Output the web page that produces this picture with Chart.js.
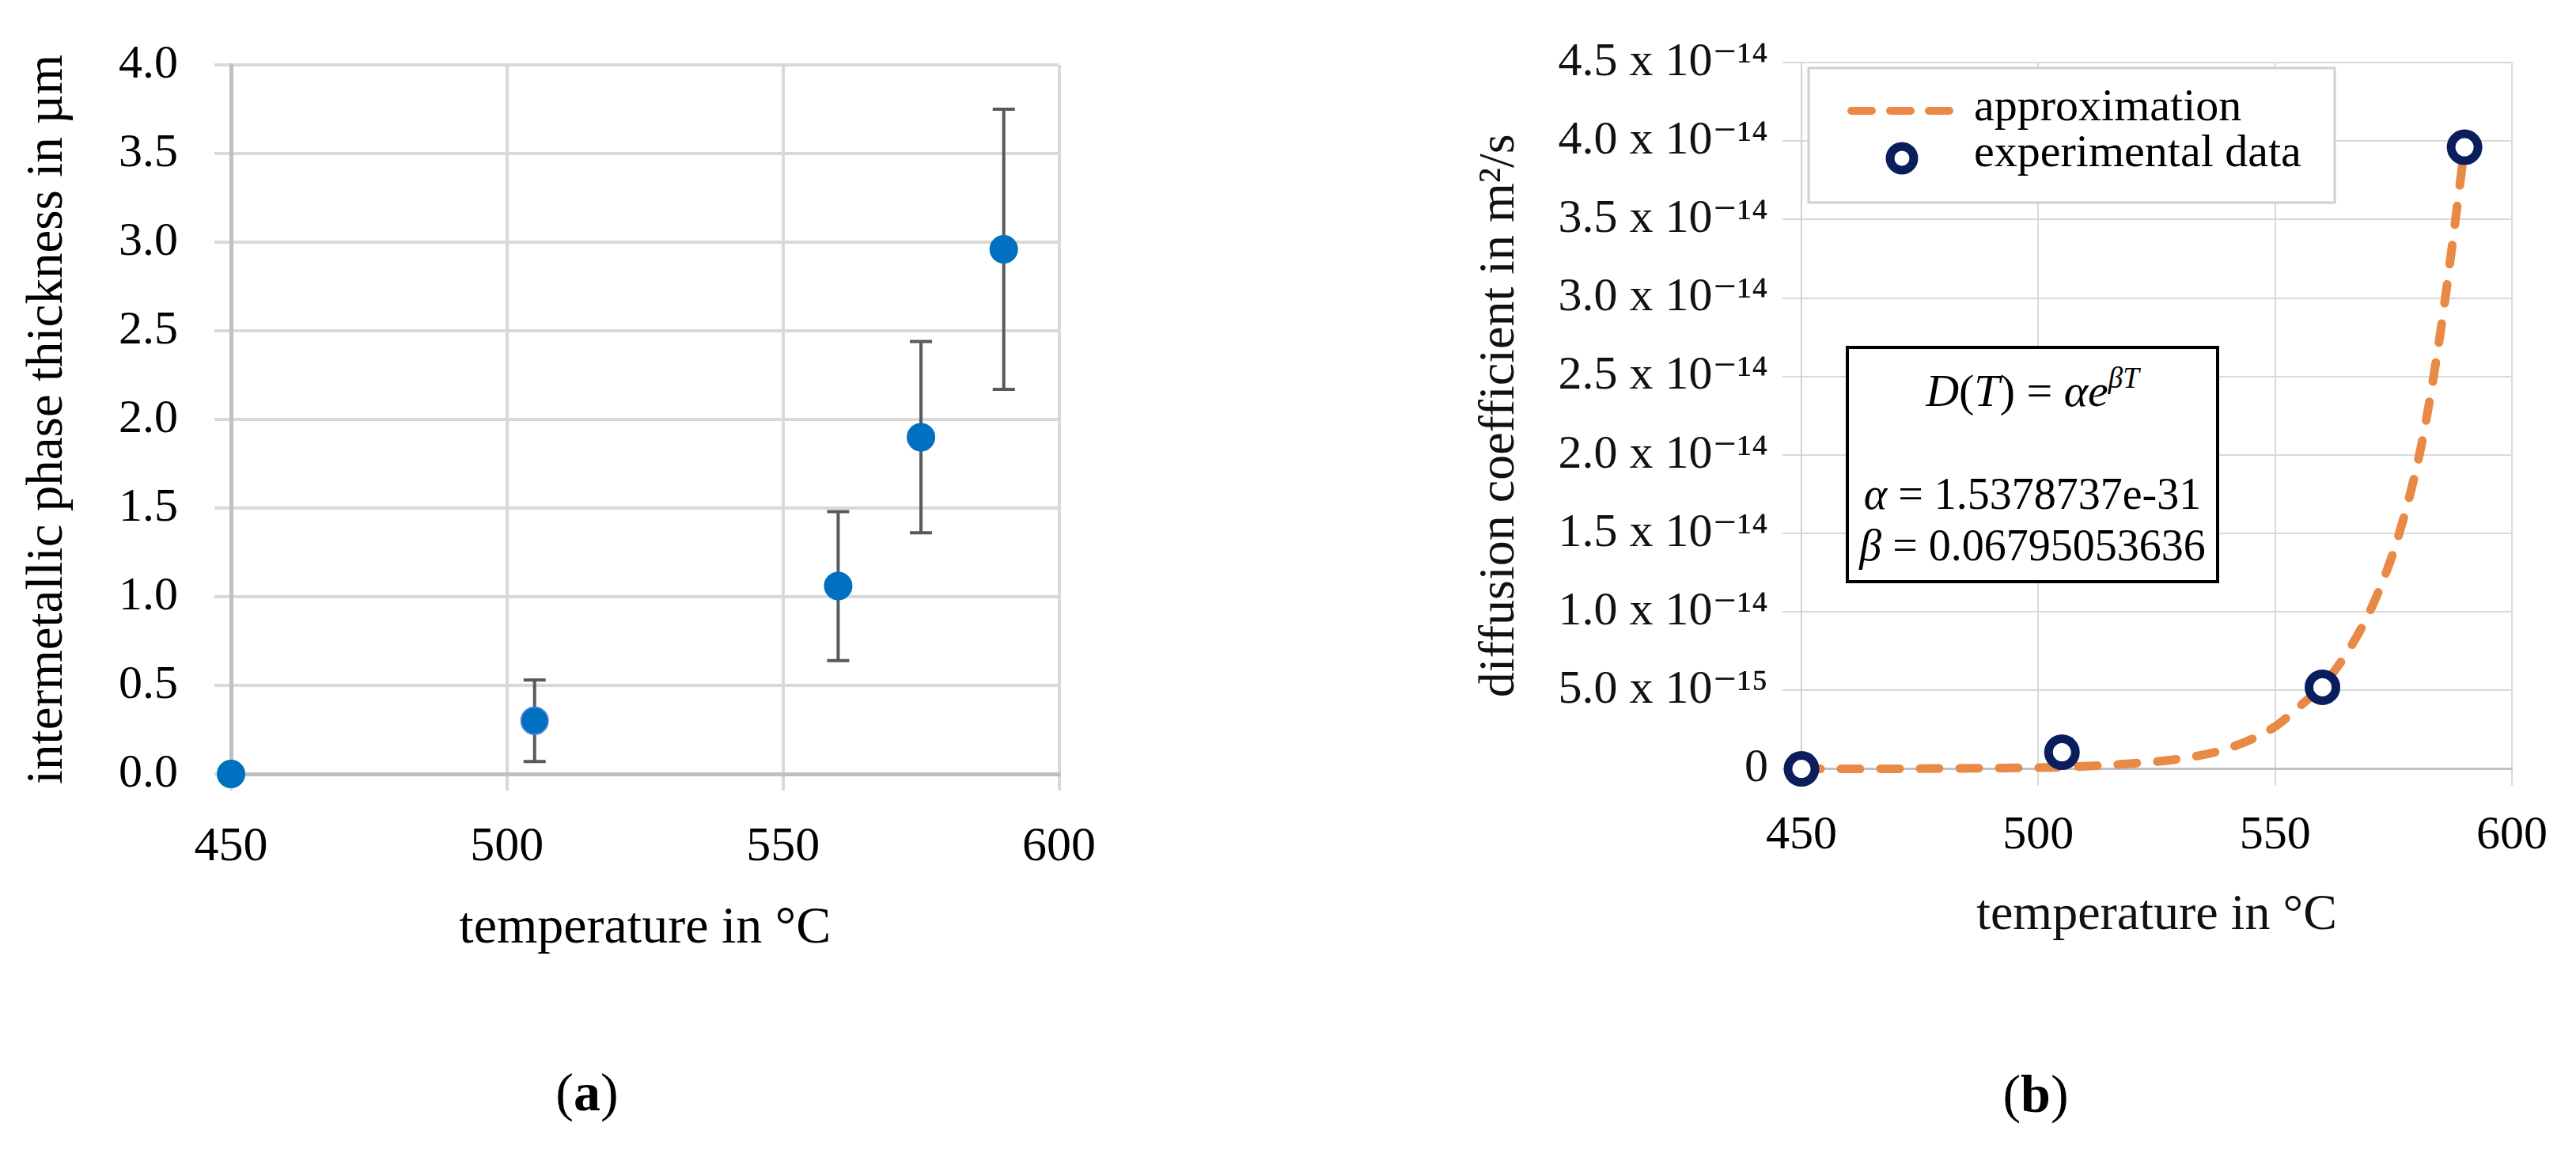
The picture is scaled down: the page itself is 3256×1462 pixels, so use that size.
<!DOCTYPE html>
<html><head><meta charset="utf-8">
<script src="https://cdn.jsdelivr.net/npm/chart.js@4.4.1/dist/chart.umd.min.js"></script>
<style>
html,body{margin:0;padding:0;background:#fff;}
body{width:3256px;height:1462px;position:relative;overflow:hidden;font-family:'Liberation Serif','DejaVu Serif',serif;color:#000;}
#wa{position:absolute;left:0;top:0;width:1420px;height:1250px;}
#wb{position:absolute;left:1760px;top:0;width:1496px;height:1250px;}
.cap{position:absolute;width:200px;text-align:center;font-size:68px;line-height:1;white-space:nowrap;}
#eq{position:absolute;left:2333px;top:437px;width:472px;height:300px;border:4px solid #000;box-sizing:border-box;background:#fff;}
#eq div{position:absolute;left:0;right:0;text-align:center;line-height:1;white-space:nowrap;}
#eq i{font-style:italic;}
</style></head><body>
<div id="wa"><canvas id="ca" width="1420" height="1250"></canvas></div>
<div id="wb"><canvas id="cb" width="1496" height="1250"></canvas></div>
<div id="eq">
  <div style="top:24px;font-size:58px;"><i>D</i>(<i>T</i>) = <i>αe</i><span style="font-size:37px;position:relative;top:-23px;"><i>βT</i></span></div>
  <div style="top:155px;font-size:56px;"><i>α</i> = 1.5378737e-31</div>
  <div style="top:220px;font-size:56px;"><i>β</i> = 0.06795053636</div>
</div>
<div class="cap" style="left:642px;top:1346px;">(<b>a</b>)</div>
<div class="cap" style="left:2473px;top:1348px;">(<b>b</b>)</div>
<script>
// ---- chart (a) data ----
const tempA  = [450, 505, 560, 575, 590];
const thickA = [0, 0.30, 1.06, 1.90, 2.96];
const errA   = [0, 0.23, 0.42, 0.54, 0.79];
const xTicksA = ['450', '500', '550', '600'];
const yTicksA = ['0.0', '0.5', '1.0', '1.5', '2.0', '2.5', '3.0', '3.5', '4.0'];

// ---- chart (b) data ----
const seriesNamesB = ['approximation', 'experimental data'];
const tempFit = [450, 470, 490, 500, 510, 520, 530, 540, 550, 556, 560, 566, 571, 576, 581, 585, 588, 590];
const diffFit = [0, 1e-17, 5e-17, 8e-17, 1.7e-16, 3.5e-16, 6.5e-16, 1.3e-15, 2.7e-15, 4.2e-15, 5.3e-15, 7.8e-15, 1.07e-14, 1.48e-14, 2.08e-14, 2.80e-14, 3.48e-14, 3.96e-14];
const tempExp = [450, 505, 560, 590];
const diffExp = [0, 1.06e-15, 5.2e-15, 3.96e-14];
const xTicksB = ['450', '500', '550', '600'];
const yTicksB = ['0', '5.0 x 10⁻¹⁵', '1.0 x 10⁻¹⁴', '1.5 x 10⁻¹⁴', '2.0 x 10⁻¹⁴', '2.5 x 10⁻¹⁴', '3.0 x 10⁻¹⁴', '3.5 x 10⁻¹⁴', '4.0 x 10⁻¹⁴', '4.5 x 10⁻¹⁴'];

const FONT = "'Liberation Serif', 'DejaVu Serif', serif";
const ORANGE = '#E88A45';
const NAVY = '#0A1E5E';

const errorBars = {
  id: 'errorBars',
  beforeDatasetsDraw(chart) {
    const {ctx, scales: {x, y}} = chart;
    ctx.save();
    ctx.strokeStyle = '#595959';
    ctx.lineWidth = 4;
    tempA.forEach((t, i) => {
      if (!errA[i]) return;
      const px = x.getPixelForValue(t);
      const top = y.getPixelForValue(thickA[i] + errA[i]);
      const bot = y.getPixelForValue(thickA[i] - errA[i]);
      ctx.beginPath();
      ctx.moveTo(px, top); ctx.lineTo(px, bot);
      ctx.moveTo(px - 14, top); ctx.lineTo(px + 14, top);
      ctx.moveTo(px - 14, bot); ctx.lineTo(px + 14, bot);
      ctx.stroke();
    });
    ctx.restore();
  }
};

new Chart(document.getElementById('ca'), {
  type: 'scatter',
  data: {
    datasets: [{
      label: 'thickness',
      data: tempA.map((t, i) => ({x: t, y: thickA[i]})),
      pointRadius: 17,
      pointBackgroundColor: '#0070C0',
      pointBorderColor: ['#0070C0', '#4A7FD3', '#0070C0', '#0070C0', '#0070C0'],
      pointBorderWidth: 2,
      clip: false
    }]
  },
  options: {
    responsive: false,
    animation: false,
    devicePixelRatio: 1,
    layout: {padding: {left: 0, top: 59, right: 75, bottom: 0}},
    plugins: {legend: {display: false}, tooltip: {enabled: false}},
    scales: {
      x: {
        type: 'linear', min: 450, max: 600,
        afterFit(s) { s.height = 272; },
        ticks: {stepSize: 50, maxRotation: 0, autoSkip: false, padding: 35, color: '#000',
          font: {family: FONT, size: 62}, callback: (v, i) => xTicksA[i]},
        grid: {color: '#d9d9d9', lineWidth: 4, tickLength: 21},
        border: {color: '#bfbfbf', width: 5},
        title: {display: true, text: 'temperature in °C', color: '#000',
          font: {family: FONT, size: 66}, padding: {top: 0, bottom: 37}}
      },
      y: {
        type: 'linear', min: 0, max: 4,
        afterFit(s) { s.width = 292; },
        ticks: {stepSize: 0.5, padding: 46, color: '#000', autoSkip: false,
          font: {family: FONT, size: 60}, callback: (v, i) => yTicksA[i]},
        grid: {color: '#d9d9d9', lineWidth: 4, tickLength: 21},
        border: {color: '#bfbfbf', width: 5},
        title: {display: true, text: 'intermetallic phase thickness in µm', color: '#000',
          font: {family: FONT, size: 65}, padding: {top: 22, bottom: 0}}
      }
    }
  },
  plugins: [errorBars]
});

const legendB = {
  id: 'legendB',
  afterDraw(chart) {
    const ctx = chart.ctx;
    const ds = chart.data.datasets;
    ctx.save();
    ctx.fillStyle = '#fff';
    ctx.fillRect(526, 86, 665, 170);
    ctx.strokeStyle = '#cfcfcf';
    ctx.lineWidth = 3;
    ctx.strokeRect(526, 86, 665, 170);
    ctx.strokeStyle = ORANGE;
    ctx.lineWidth = 10;
    ctx.lineCap = 'round';
    ctx.setLineDash([26, 23]);
    ctx.beginPath(); ctx.moveTo(580, 140); ctx.lineTo(705, 140); ctx.stroke();
    ctx.setLineDash([]);
    ctx.beginPath();
    ctx.arc(644, 200, 15, 0, Math.PI * 2);
    ctx.fillStyle = '#fff'; ctx.fill();
    ctx.lineWidth = 11; ctx.strokeStyle = NAVY; ctx.stroke();
    ctx.fillStyle = '#000';
    ctx.font = "58px " + FONT;
    ctx.textBaseline = 'middle';
    ctx.textAlign = 'left';
    const names = ds.slice().sort((a, b) => a.legendIndex - b.legendIndex).map(d => d.label);
    ctx.fillText(names[0], 735, 137);
    ctx.fillText(names[1], 735, 195);
    ctx.restore();
  }
};

new Chart(document.getElementById('cb'), {
  type: 'scatter',
  data: {
    datasets: [{
      label: seriesNamesB[0],
      legendIndex: 0,
      type: 'line',
      data: tempFit.map((t, i) => ({x: t, y: diffFit[i]})),
      borderColor: ORANGE,
      borderWidth: 11,
      borderDash: [24, 26],
      borderCapStyle: 'round',
      cubicInterpolationMode: 'monotone',
      pointRadius: 0,
      fill: false,
      clip: false,
      order: 1
    }, {
      label: seriesNamesB[1],
      legendIndex: 1,
      data: tempExp.map((t, i) => ({x: t, y: diffExp[i]})),
      showLine: false,
      pointRadius: 17,
      pointBorderWidth: 11,
      pointBackgroundColor: '#fff',
      pointBorderColor: NAVY,
      clip: false,
      order: 0
    }]
  },
  options: {
    responsive: false,
    animation: false,
    devicePixelRatio: 1,
    layout: {padding: {left: 0, top: 79, right: 81, bottom: 0}},
    plugins: {legend: {display: false}, tooltip: {enabled: false}},
    scales: {
      x: {
        type: 'linear', min: 450, max: 600,
        afterFit(s) { s.height = 278.4; },
        ticks: {stepSize: 50, maxRotation: 0, autoSkip: false, padding: 28, color: '#000',
          font: {family: FONT, size: 60}, callback: (v, i) => xTicksB[i]},
        grid: {color: '#d9d9d9', lineWidth: 2, tickLength: 21},
        border: {color: '#bcc2c8', width: 3},
        title: {display: true, text: 'temperature in °C', color: '#111',
          font: {family: FONT, size: 64}, padding: {top: 0, bottom: 54}}
      },
      y: {
        type: 'linear', min: 0, max: 4.5e-14,
        afterFit(s) { s.width = 517; },
        ticks: {stepSize: 5e-15, padding: 18, color: '#111', autoSkip: false,
          font: {family: FONT, size: 60}, callback: (v, i) => yTicksB[i]},
        grid: {color: '#d9d9d9', lineWidth: 2, tickLength: 24},
        border: {color: '#d0d0d0', width: 2},
        title: {display: true, text: 'diffusion coefficient in m²/s', color: '#111',
          font: {family: FONT, size: 64}, padding: {top: 98, bottom: 0}}
      }
    }
  },
  plugins: [legendB]
});
</script>
</body></html>
